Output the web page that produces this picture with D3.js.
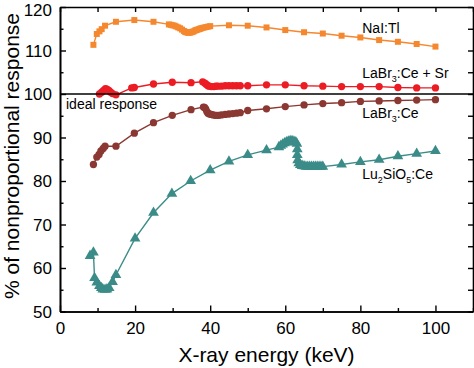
<!DOCTYPE html>
<html>
<head>
<meta charset="utf-8">
<script src="https://cdn.jsdelivr.net/npm/d3@7"></script>
<style>
  body { margin: 0; background: #fff; }
  text { font-family: "Liberation Sans", Arial, sans-serif; }
</style>
</head>
<body>
<script>
// NaI:Tl
const naiEnergy = [8.9, 9.8, 10.5, 11.1, 12.0, 14.9, 19.8, 24.9, 29.0, 29.5, 30.0, 30.5, 31.0, 31.5, 32.0, 32.5, 33.0, 33.3, 33.6, 34.0, 34.3, 34.6, 35.0, 35.3, 35.6, 36.0, 36.3, 36.6, 37.0, 37.3, 37.6, 38.0, 38.5, 39.0, 39.5, 40.0, 45, 50, 55, 60, 65, 70, 75, 80, 85, 90, 95, 100];
const naiResponse = [111.3, 113.8, 114.4, 114.9, 115.7, 116.6, 117.0, 116.6, 116.0, 115.9, 115.8, 115.7, 115.5, 115.3, 115.1, 114.8, 114.5, 114.3, 114.2, 114.1, 114.1, 114.1, 114.2, 114.3, 114.4, 114.6, 114.7, 114.8, 114.9, 115.0, 115.1, 115.2, 115.3, 115.4, 115.5, 115.6, 115.8, 115.7, 115.3, 114.7, 114.2, 113.9, 113.4, 113.0, 112.4, 112.0, 111.5, 110.9];

// LaBr3:Ce + Sr
const srEnergy = [10.5, 11.1, 11.6, 12.1, 12.5, 13.0, 13.5, 14.0, 14.9, 19.1, 19.8, 24.9, 29.9, 34.9, 38.0, 38.6, 39.0, 39.4, 39.8, 40.3, 41, 41.5, 42, 43, 44, 45, 46, 47, 48, 50, 55, 60, 65, 70, 75, 80, 85, 90, 95, 100];
const srResponse = [100.0, 100.4, 100.8, 101.2, 101.1, 100.8, 100.4, 100.1, 99.8, 101.4, 101.5, 102.3, 102.7, 102.6, 102.8, 102.5, 102.2, 101.9, 101.8, 101.7, 101.7, 101.8, 101.8, 101.8, 101.9, 101.9, 101.9, 101.9, 101.9, 101.9, 102.1, 102.1, 101.9, 101.8, 101.7, 101.7, 101.7, 101.5, 101.4, 101.4];

// LaBr3:Ce
const ceEnergy = [8.9, 9.8, 10.4, 10.9, 11.5, 12.0, 14.9, 19.8, 24.9, 29.9, 34.9, 38.2, 38.5, 38.8, 39.1, 39.4, 39.8, 40.3, 40.8, 41.3, 41.8, 42.3, 43, 44, 45, 46, 47, 48, 50, 55, 60, 65, 70, 75, 80, 85, 90, 95, 100];
const ceResponse = [83.8, 85.5, 86.1, 86.9, 87.5, 88.0, 88.0, 91.0, 93.4, 95.1, 96.4, 97.0, 96.9, 96.6, 96.0, 95.6, 95.4, 95.3, 95.2, 95.1, 95.1, 95.1, 95.2, 95.3, 95.4, 95.5, 95.6, 95.7, 96.2, 96.6, 97.1, 97.5, 97.8, 98.0, 98.3, 98.4, 98.5, 98.6, 98.7];

// Lu2SiO5:Ce
const lsoEnergy = [8.0, 8.9, 9.2, 9.8, 10.5, 11.0, 11.4, 12.0, 12.5, 13.1, 14.0, 14.9, 20.0, 24.9, 29.8, 34.8, 40.0, 45.0, 50.0, 55.0, 58.3, 58.8, 59.3, 59.8, 60.3, 60.8, 61.3, 61.8, 62.3, 62.8, 63.1, 63.2, 63.2, 63.3, 63.6, 64.0, 64.5, 65.0, 65.5, 66.0, 66.5, 67.0, 67.5, 68.0, 68.5, 69.0, 69.5, 70.0, 75, 80, 85, 90, 95, 100];
const lsoResponse = [62.8, 63.6, 57.7, 56.7, 55.9, 55.4, 55.1, 55.0, 55.1, 55.4, 56.8, 58.4, 66.8, 72.7, 77.1, 80.0, 82.5, 84.5, 86.0, 87.1, 87.8, 88.1, 88.4, 88.7, 88.9, 89.1, 89.2, 89.2, 89.1, 88.9, 88.6, 87.3, 86.0, 84.8, 84.1, 83.7, 83.5, 83.4, 83.3, 83.3, 83.3, 83.3, 83.3, 83.3, 83.3, 83.3, 83.3, 83.3, 83.8, 84.4, 84.9, 85.7, 86.3, 86.9];

const xTicks = [0, 20, 40, 60, 80, 100];
const yTicks = [50, 60, 70, 80, 90, 100, 110, 120];

const width = 474;
const height = 368;
const plotLeft = 60, plotRight = 473, plotTop = 7, plotBottom = 311.5;

const svg = d3.select("body").append("svg")
  .attr("width", width)
  .attr("height", height);

const x = d3.scaleLinear().domain([0, 110]).range([plotLeft, plotRight]);
const y = d3.scaleLinear().domain([50, 120]).range([plotBottom, plotTop]);

//Series
const series = [
  { energy: naiEnergy, response: naiResponse, color: "#f5882e", shape: d3.symbolSquare, size: 36 },
  { energy: srEnergy, response: srResponse, color: "#ec1c24", shape: d3.symbolCircle, size: 42 },
  { energy: ceEnergy, response: ceResponse, color: "#8c3832", shape: d3.symbolCircle, size: 42 },
  { energy: lsoEnergy, response: lsoResponse, color: "#3b8c88", shape: d3.symbolTriangle, size: 50 }
];

const line = d3.line().x((d) => x(d[0])).y((d) => y(d[1]));

series.forEach((s) => {
  const pts = s.energy.map((e, i) => [e, s.response[i]]);
  svg.append("path")
    .attr("d", line(pts))
    .attr("fill", "none")
    .attr("stroke", s.color)
    .attr("stroke-width", 1.4);
  svg.append("g")
    .selectAll("path")
    .data(pts)
    .enter()
    .append("path")
    .attr("transform", (d) => "translate(" + x(d[0]) + "," + y(d[1]) + ")")
    .attr("d", d3.symbol().type(s.shape).size(s.size))
    .attr("fill", s.color);
});

//Ideal response line
svg.append("line")
  .attr("x1", plotLeft).attr("x2", plotRight)
  .attr("y1", y(100)).attr("y2", y(100))
  .attr("stroke", "#000").attr("stroke-width", 1.6);

//Axes
const minorX = d3.range(10, 111, 20);
const minorY = d3.range(55, 120, 10);

function styleAxis(g) {
  g.select(".domain").attr("stroke-width", 1.6);
  g.selectAll(".tick line").attr("stroke-width", 1.4);
  g.selectAll("text").attr("font-size", 17).attr("fill", "#000");
}

svg.append("g")
  .attr("transform", "translate(0," + plotBottom + ")")
  .call(d3.axisBottom(x).tickValues(xTicks).tickSize(-6).tickSizeOuter(0).tickPadding(10))
  .call(styleAxis);
svg.append("g")
  .attr("transform", "translate(0," + plotBottom + ")")
  .call(d3.axisBottom(x).tickValues(minorX).tickSize(-3.5).tickSizeOuter(0).tickFormat(""))
  .call(styleAxis);
svg.append("g")
  .attr("transform", "translate(0," + plotTop + ")")
  .call(d3.axisTop(x).tickValues(xTicks.concat(minorX)).tickSize(-5).tickSizeOuter(0).tickFormat(""))
  .call(styleAxis);

svg.append("g")
  .attr("transform", "translate(" + plotLeft + ",0)")
  .call(d3.axisLeft(y).tickValues(yTicks).tickSize(-6).tickSizeOuter(0).tickPadding(8))
  .call(styleAxis)
  .call((g) => g.selectAll("text").attr("dy", (d) => (d === 120 ? "0.5em" : "0.34em")));
svg.append("g")
  .attr("transform", "translate(" + plotLeft + ",0)")
  .call(d3.axisLeft(y).tickValues(minorY).tickSize(-3.5).tickSizeOuter(0).tickFormat(""))
  .call(styleAxis);
svg.append("g")
  .attr("transform", "translate(" + plotRight + ",0)")
  .call(d3.axisRight(y).tickValues(d3.range(50, 121, 5)).tickSize(-5).tickSizeOuter(0).tickFormat(""))
  .call(styleAxis);

//Axis titles
svg.append("text")
  .attr("x", (plotLeft + plotRight) / 2)
  .attr("y", 362)
  .attr("text-anchor", "middle")
  .attr("font-size", 21)
  .text("X-ray energy (keV)");

svg.append("text")
  .attr("transform", "translate(19,156) rotate(-90)")
  .attr("text-anchor", "middle")
  .attr("font-size", 21)
  .text("% of nonproportional response");

//Labels
function label(xv, yv, parts) {
  const t = svg.append("text")
    .attr("x", x(xv))
    .attr("y", y(yv))
    .attr("font-size", 14);
  parts.forEach((p) => {
    if (p.sub) {
      t.append("tspan").attr("font-size", 9).attr("dy", 4).text(p.sub);
    } else {
      t.append("tspan").attr("dy", p.after ? -4 : 0).text(p.t);
    }
  });
}

label(80.5, 114.1, [{ t: "NaI:Tl" }]);
label(80.5, 103.6, [{ t: "LaBr" }, { sub: "3" }, { t: ":Ce + Sr", after: true }]);
label(80.5, 94.5, [{ t: "LaBr" }, { sub: "3" }, { t: ":Ce", after: true }]);
label(80.5, 80.4, [{ t: "Lu" }, { sub: "2" }, { t: "SiO", after: true }, { sub: "5" }, { t: ":Ce", after: true }]);

svg.append("text")
  .attr("x", plotLeft + 6)
  .attr("y", y(100) + 15)
  .attr("font-size", 14)
  .text("ideal response");
</script>
</body>
</html>
